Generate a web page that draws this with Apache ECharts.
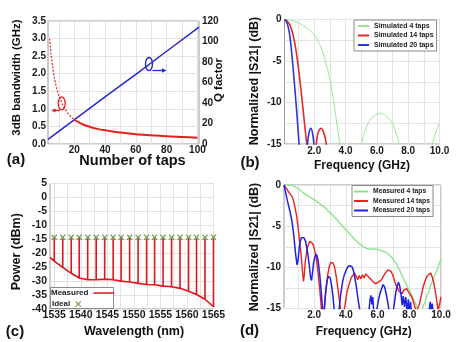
<!DOCTYPE html>
<html><head><meta charset="utf-8">
<script src="https://cdn.jsdelivr.net/npm/echarts@6/dist/echarts.min.js"></script>
<style>html,body{margin:0;padding:0;background:#fff}#c{width:474px;height:342px}</style>
</head><body><div id="c"></div>
<script>
// ---------- Panel (a): bandwidth and Q factor vs number of taps ----------
const tapsDashed = [4,5,6,7,8,9,10,11,12,13,14,15,16,17,18,19,20];
const bwDashed   = [3.0,2.55,2.2,1.92,1.7,1.52,1.38,1.26,1.16,1.07,1.0,0.93,0.87,0.82,0.77,0.73,0.69];
const tapsSolid  = [20,25,30,35,40,50,60,70,80,90,100];
const bwSolid    = [0.69,0.57,0.49,0.43,0.39,0.325,0.28,0.25,0.22,0.2,0.18];
const tapsQ      = [3,20,40,60,80,101];
const qFactor    = [4.5,23.5,46,68,90.5,114];

// ---------- Panel (b): simulated responses [GHz, dB] ----------
const sim4 = [[0.1,0],[0.5,-0.08],[1.0,-0.4],[1.5,-1.0],[2.0,-1.85],[2.4,-3.2],[2.7,-4.9],[3.0,-7.2],[3.25,-10.0],[3.45,-12.6],[3.63,-15.0],[3.85,-18.8],[4.05,-24],[4.3,-40],
  [4.7,-20],[5.0,-15.2],[5.3,-13.1],[5.6,-12.0],[5.9,-11.5],[6.2,-11.3],[6.5,-11.5],[6.8,-12.0],[7.1,-13.0],[7.4,-14.8],[7.7,-17.5],[8.1,-25],[8.6,-40],
  [9.1,-20],[9.55,-15.0],[9.8,-13.4],[10.0,-12.5]];
const sim14 = [[0.1,0],[0.25,-0.15],[0.4,-0.5],[0.55,-1.2],[0.7,-2.3],[0.85,-3.9],[0.95,-5.2],[1.05,-6.8],[1.15,-8.4],[1.25,-10.2],[1.35,-12.0],[1.45,-13.8],[1.55,-15.5],[1.65,-18.5],[1.75,-40],
  [1.95,-20],[2.13,-15],[2.25,-13.6],[2.43,-13.1],[2.6,-13.6],[2.77,-15],[2.95,-20],[3.1,-40]];
const sim20 = [[0.1,0],[0.2,-0.2],[0.3,-0.65],[0.4,-1.5],[0.5,-2.9],[0.6,-4.8],[0.7,-7.0],[0.8,-9.2],[0.9,-11.6],[1.0,-14.2],[1.05,-15.6],[1.12,-19],[1.2,-40],
  [1.4,-20],[1.57,-15],[1.67,-13.6],[1.78,-13.1],[1.88,-13.6],[1.98,-15],[2.12,-20],[2.25,-40]];

// ---------- Panel (c): optical spectrum ----------
const wavelengths = [1535.0,1536.6,1538.2,1539.7,1541.3,1542.9,1544.5,1546.1,1547.6,1549.2,1550.8,1552.4,1553.9,1555.5,1557.1,1558.7,1560.3,1561.8,1563.4,1565.0];
const measuredPeak = [-14.6,-14.7,-14.6,-14.5,-14.7,-14.6,-14.6,-14.7,-14.6,-14.5,-14.6,-14.7,-14.6,-14.6,-14.7,-14.6,-14.6,-14.7,-14.8,-14.7];
const floorPower = [-22.8,-25.1,-27.2,-28.9,-29.5,-29.5,-29.3,-29.5,-30.0,-30.3,-30.8,-31.2,-31.3,-31.8,-32.0,-32.6,-33.6,-34.8,-36.5,-39.2];
const idealPower = [-14.3,-14.3,-14.3,-14.3,-14.3,-14.3,-14.3,-14.3,-14.3,-14.3,-14.3,-14.3,-14.3,-14.3,-14.3,-14.3,-14.3,-14.3,-14.3,-14.3];
const spectrumStart = [1534.2,-21.5];

// ---------- Panel (d): measured responses [GHz, dB] ----------
const meas4 = [[0.1,0],[0.25,0.05],[0.4,-0.05],[0.55,0.02],[0.7,-0.12],[0.85,-0.25],[1.0,-0.42],[1.1,-0.55],[1.2,-0.78],[1.3,-0.9],[1.4,-1.05],[1.5,-1.12],[1.6,-1.3],[1.7,-1.36],[1.8,-1.52],[1.9,-1.6],[2.0,-1.78],[2.1,-1.85],[2.2,-2.05],[2.3,-2.15],[2.4,-2.35],[2.5,-2.5],[2.6,-2.62],[2.7,-2.85],[2.8,-2.95],[2.9,-3.2],[3.0,-3.3],[3.1,-3.55],[3.2,-3.68],[3.3,-3.92],[3.4,-4.1],[3.5,-4.35],[3.6,-4.5],[3.7,-4.8],[3.8,-4.95],[3.9,-5.25],[4.0,-5.4],[4.1,-5.62],[4.2,-5.75],[4.3,-6.05],[4.4,-6.2],[4.5,-6.5],[4.6,-6.6],[4.7,-6.88],[4.8,-6.95],[4.9,-7.2],[5.0,-7.25],[5.1,-7.5],[5.2,-7.45],[5.3,-7.7],[5.4,-7.6],[5.5,-7.8],[5.6,-7.62],[5.7,-7.75],[5.8,-7.55],[5.9,-7.78],[6.0,-7.7],[6.1,-7.92],[6.2,-7.85],[6.3,-8.0],[6.4,-7.95],[6.5,-8.15],[6.6,-8.2],[6.7,-8.45],[6.8,-8.5],[6.9,-8.8],[7.0,-8.95],[7.1,-9.3],[7.2,-9.6],[7.3,-10.05],[7.4,-10.35],[7.5,-10.85],[7.6,-11.2],[7.7,-11.65],[7.8,-11.95],[7.9,-12.45],[8.0,-12.7],[8.1,-13.2],[8.2,-13.5],[8.3,-14.05],[8.4,-14.4],[8.5,-15.0],[8.6,-15.5],[8.7,-15.7],[8.8,-15.2],[8.9,-14.6],[9.0,-14.2],[9.1,-13.5],[9.2,-13.1],[9.3,-12.4],[9.4,-12.0],[9.5,-11.4],[9.6,-11.0],[9.7,-10.5],[9.8,-10.15],[9.9,-9.5],[10.0,-9.0]];
const meas14 = [[0.1,0],[0.2,-0.3],[0.3,-0.55],[0.4,-0.9],[0.5,-1.0],[0.6,-1.35],[0.7,-1.9],[0.8,-2.75],[0.9,-3.8],[1.0,-5.3],[1.07,-6.6],[1.15,-8.0],[1.22,-9.4],[1.28,-10.8],[1.33,-11.7],[1.38,-10.9],[1.43,-9.5],[1.5,-8.5],[1.57,-7.6],[1.65,-7.2],[1.72,-6.85],[1.8,-6.8],[1.88,-7.05],[1.95,-7.3],[2.03,-7.95],[2.12,-8.7],[2.2,-9.9],[2.28,-11.3],[2.36,-12.8],[2.44,-14.6],[2.5,-16.5],[2.58,-16.0],[2.66,-14.5],[2.75,-12.8],[2.85,-11.0],[2.95,-9.95],[3.05,-9.4],[3.12,-9.3],[3.2,-9.5],[3.3,-10.05],[3.4,-11.2],[3.5,-12.6],[3.6,-14.1],[3.67,-15.2],[3.75,-16.5],[3.85,-16.3],[3.95,-14.6],[4.05,-13.2],[4.15,-12.4],[4.25,-11.8],[4.35,-11.2],[4.45,-11.1],[4.55,-10.7],[4.65,-11.1],[4.75,-11.5],[4.85,-11.0],[4.95,-11.4],[5.05,-10.9],[5.15,-11.3],[5.25,-10.8],[5.35,-10.9],[5.45,-11.2],[5.55,-11.1],[5.65,-11.6],[5.75,-11.4],[5.85,-12.0],[5.95,-12.2],[6.05,-11.8],[6.15,-11.8],[6.25,-11.5],[6.35,-11.3],[6.45,-10.8],[6.55,-10.6],[6.65,-10.3],[6.75,-10.35],[6.85,-10.5],[6.95,-10.9],[7.05,-11.5],[7.15,-12.1],[7.25,-12.5],[7.35,-12.9],[7.45,-13.0],[7.55,-13.2],[7.65,-12.8],[7.75,-12.8],[7.85,-12.6],[7.95,-13.0],[8.05,-13.1],[8.15,-13.6],[8.25,-14.1],[8.35,-14.8],[8.45,-15.4],[8.55,-15.2],[8.65,-14.4],[8.75,-13.5],[8.85,-12.6],[8.95,-11.9],[9.05,-11.4],[9.15,-11.0],[9.25,-10.8],[9.35,-10.7],[9.45,-11.2],[9.55,-11.9],[9.65,-13.0],[9.75,-14.3],[9.82,-15.3],[9.9,-14.6],[10.0,-13.6]];
const meas20 = [[0.1,0],[0.2,-0.9],[0.3,-1.8],[0.4,-2.6],[0.5,-3.4],[0.6,-4.4],[0.68,-5.5],[0.76,-7.0],[0.84,-8.5],[0.92,-9.7],[0.98,-9.2],[1.05,-7.8],[1.12,-6.9],[1.2,-6.4],[1.28,-6.2],[1.36,-6.4],[1.45,-6.8],[1.54,-7.6],[1.62,-8.6],[1.7,-9.9],[1.78,-11.3],[1.84,-11.6],[1.9,-10.6],[1.97,-9.4],[2.05,-8.7],[2.12,-8.4],[2.2,-8.7],[2.28,-9.6],[2.36,-11.0],[2.44,-12.8],[2.52,-14.8],[2.58,-16.5],[2.65,-15.0],[2.72,-13.0],[2.8,-11.8],[2.88,-11.1],[2.95,-11.0],[3.02,-11.3],[3.1,-12.2],[3.18,-13.4],[3.26,-15.0],[3.35,-17],[3.5,-16.5],[3.58,-15.0],[3.68,-13.2],[3.8,-11.7],[3.92,-10.8],[4.05,-10.2],[4.18,-9.8],[4.28,-9.7],[4.38,-9.9],[4.48,-10.4],[4.58,-11.4],[4.68,-12.6],[4.78,-14.0],[4.88,-15.2],[4.95,-17],[5.1,-17],[5.3,-16.5],[5.45,-15.5],[5.52,-14.0],[5.58,-13.4],[5.64,-14.5],[5.7,-13.6],[5.76,-15.5],[5.85,-16.5],[5.95,-15.2],[6.05,-14.0],[6.15,-13.2],[6.25,-12.6],[6.35,-12.1],[6.45,-12.4],[6.55,-13.3],[6.65,-14.3],[6.75,-15.6],[6.85,-16.5],[6.95,-15.8],[7.05,-14.5],[7.15,-13.0],[7.25,-12.2],[7.32,-11.8],[7.4,-12.3],[7.48,-13.3],[7.55,-14.6],[7.62,-13.5],[7.7,-14.8],[7.78,-13.6],[7.86,-15.4],[7.94,-13.9],[8.0,-15.6],[8.08,-14.2],[8.15,-16.0],[8.3,-16.5],[8.5,-16.5],[8.7,-16.2],[8.9,-16.5],[9.1,-16.3],[9.25,-15.3],[9.32,-14.2],[9.38,-15.2],[9.45,-14.4],[9.52,-16.0],[9.7,-16.5],[9.9,-16.2],[10.0,-16.5]];

// ---------- Tick definitions ----------
const tapsGrid = [10,20,30,40,50,60,70,80,90,100];
const tapsLabels = [20,40,60,80,100];
const freqGrid = [1,2,3,4,5,6,7,8,9,10];
const freqLabels = [2,4,6,8,10];
const wlGrid = [1535,1537.5,1540,1542.5,1545,1547.5,1550,1552.5,1555,1557.5,1560,1562.5,1565];
const wlLabels = [1535,1540,1545,1550,1555,1560,1565];

const FONT = "'Liberation Sans', Arial, Helvetica, sans-serif";
const RED = '#e4201c', BLUE = '#2626d6';
const XPATH = 'path://M0,1.4L1.4,0L5,3.6L8.6,0L10,1.4L6.4,5L10,8.6L8.6,10L5,6.4L1.4,10L0,8.6L3.6,5Z';

function mkAxis(o) {
  const a = {
    type: 'value',
    axisLine: {show: false},
    axisTick: Object.assign({show: false}, o.tick || {}),
    splitLine: {show: o.split !== false, lineStyle: {color: '#e2e2e2', width: 1}},
    axisLabel: Object.assign({color: '#1a1a1a', fontWeight: 'bold', fontSize: 10, fontFamily: FONT, margin: 2}, o.label || {})
  };
  ['gridIndex','min','max','interval','position'].forEach(k => { if (o[k] !== undefined) a[k] = o[k]; });
  return a;
}
const zip = (xs, ys) => xs.map((x, i) => [x, ys[i]]);
const fmt1 = v => v.toFixed(1);
const fmtInt = v => String(Math.round(v));
const fmt5 = v => (Math.abs(v % 5) < 1e-9 ? String(v) : '');

const spectrum = [spectrumStart];
wavelengths.forEach((w, i) => { spectrum.push([w, floorPower[i]], [w, measuredPeak[i]], [w, floorPower[i]]); });

const gridStyle = {show: true, borderColor: '#9a9a9a', borderWidth: 1, outerBoundsMode: 'none', containLabel: false};
const legendText = {color: '#1a1a1a', fontWeight: 'bold', fontFamily: FONT};

function txt(text, x, y, size, rot) {
  return {type: 'text', x: x, y: y, rotation: rot || 0, z: 20,
    style: {text: text, font: 'bold ' + size + 'px ' + FONT, fill: '#111', textAlign: 'center', textVerticalAlign: 'middle'}};
}

const option = {
  animation: false,
  backgroundColor: '#fff',
  grid: [
    Object.assign({left: 48, top: 21, width: 151, height: 123}, gridStyle),
    Object.assign({left: 284.5, top: 19.5, width: 155, height: 124.5}, gridStyle),
    Object.assign({left: 50, top: 183.5, width: 163.5, height: 125.5}, gridStyle),
    Object.assign({left: 284, top: 185, width: 157, height: 123.5}, gridStyle)
  ],
  xAxis: [
    mkAxis({gridIndex: 0, min: 3, max: 101, tick: {customValues: tapsGrid}, label: {customValues: tapsLabels, margin: 1}}),
    mkAxis({gridIndex: 1, min: 0.1, max: 10, tick: {customValues: freqGrid}, label: {customValues: freqLabels, formatter: fmt1, margin: 2}}),
    mkAxis({gridIndex: 2, min: 1534.2, max: 1565, tick: {customValues: wlGrid}, label: {customValues: wlLabels, formatter: fmtInt, fontSize: 10.5, margin: 1}}),
    mkAxis({gridIndex: 3, min: 0.1, max: 10, tick: {customValues: freqGrid}, label: {customValues: freqLabels, formatter: fmt1, margin: 1.5}})
  ],
  yAxis: [
    mkAxis({gridIndex: 0, min: 0, max: 3.5, interval: 0.5, label: {formatter: fmt1, margin: 2}}),
    mkAxis({gridIndex: 0, position: 'right', min: 0, max: 120, interval: 20, split: false, label: {margin: 3}}),
    mkAxis({gridIndex: 1, min: -15, max: 0, interval: 2.5, label: {formatter: fmt5, margin: 3}}),
    mkAxis({gridIndex: 2, min: -40, max: 5, interval: 5, label: {fontSize: 10.5, margin: 3}}),
    mkAxis({gridIndex: 3, min: -15, max: 0, interval: 2.5, label: {formatter: fmt5, margin: 3}})
  ],
  legend: [
    {data: ['Simulated 4 taps','Simulated 14 taps','Simulated 20 taps'], orient: 'vertical', left: 354, top: 20,
     icon: 'rect', itemWidth: 11, itemHeight: 2, itemGap: 1.5, padding: [2, 3, 2, 4], selectedMode: false,
     backgroundColor: '#fff', borderColor: '#8a8a8a', borderWidth: 1, borderRadius: 0,
     textStyle: Object.assign({fontSize: 7, lineHeight: 8}, legendText), z: 6},
    {data: ['Measured 4 taps','Measured 14 taps','Measured 20 taps'], orient: 'vertical', left: 352, top: 185.5,
     icon: 'rect', itemWidth: 14, itemHeight: 2, itemGap: 1.5, padding: [2, 3, 2, 2], selectedMode: false,
     backgroundColor: '#fff', borderColor: '#8a8a8a', borderWidth: 1, borderRadius: 0,
     textStyle: Object.assign({fontSize: 6.8, lineHeight: 8}, legendText), z: 6},
    {data: [{name: 'Measured', icon: 'rect'}], orient: 'vertical', align: 'right', left: 51, top: 288.5,
     itemWidth: 21, itemHeight: 1.5, padding: 0, selectedMode: false,
     textStyle: Object.assign({fontSize: 8, lineHeight: 9}, legendText), z: 6},
    {data: [{name: 'Ideal', icon: XPATH}], orient: 'vertical', align: 'right', left: 52, top: 299.5,
     itemWidth: 6, itemHeight: 6, padding: 0, selectedMode: false,
     textStyle: Object.assign({fontSize: 8, lineHeight: 9}, legendText), z: 6}
  ],
  series: [
    // (a)
    {name: 'Q factor', type: 'line', xAxisIndex: 0, yAxisIndex: 1, data: zip(tapsQ, qFactor), symbol: 'none', color: BLUE, lineStyle: {color: BLUE, width: 1.5}},
    {name: 'BW dashed', type: 'line', xAxisIndex: 0, yAxisIndex: 0, data: zip(tapsDashed, bwDashed), symbol: 'none', smooth: 0.3, color: '#d84040', lineStyle: {color: '#d84040', width: 1.3, type: [2, 1.5]}},
    {name: 'BW solid', type: 'line', xAxisIndex: 0, yAxisIndex: 0, data: zip(tapsSolid, bwSolid), symbol: 'none', smooth: 0.3, color: RED, lineStyle: {color: RED, width: 2}},
    // (b)
    {name: 'Simulated 4 taps', type: 'line', xAxisIndex: 1, yAxisIndex: 2, data: sim4, symbol: 'none', smooth: 0.3, color: '#98e698', lineStyle: {color: '#98e698', width: 1}},
    {name: 'Simulated 14 taps', type: 'line', xAxisIndex: 1, yAxisIndex: 2, data: sim14, symbol: 'none', smooth: 0.3, color: '#e8262a', lineStyle: {color: '#e8262a', width: 1.6}},
    {name: 'Simulated 20 taps', type: 'line', xAxisIndex: 1, yAxisIndex: 2, data: sim20, symbol: 'none', smooth: 0.3, color: '#2a36d8', lineStyle: {color: '#2a36d8', width: 1.6}},
    // (c)
    {name: 'Measured', type: 'line', xAxisIndex: 2, yAxisIndex: 3, data: spectrum, symbol: 'none', color: '#e3141c', lineStyle: {color: '#e3141c', width: 1.6}},
    {name: 'Ideal', type: 'scatter', xAxisIndex: 2, yAxisIndex: 3, data: zip(wavelengths, idealPower), symbol: XPATH, symbolSize: 6, color: '#4a8526', itemStyle: {color: '#4a8526'}, z: 4},
    // (d)
    {name: 'Measured 4 taps', type: 'line', xAxisIndex: 3, yAxisIndex: 4, data: meas4, symbol: 'none', color: '#86e486', lineStyle: {color: '#86e486', width: 1.3}},
    {name: 'Measured 14 taps', type: 'line', xAxisIndex: 3, yAxisIndex: 4, data: meas14, symbol: 'none', color: '#ee2020', lineStyle: {color: '#ee2020', width: 1.4}},
    {name: 'Measured 20 taps', type: 'line', xAxisIndex: 3, yAxisIndex: 4, data: meas20, symbol: 'none', color: '#2020e0', lineStyle: {color: '#2020e0', width: 1.5}}
  ],
  graphic: [
    // annotations in (a)
    {type: 'ellipse', z: 10, shape: {cx: 149, cy: 64, rx: 3.5, ry: 6.5}, style: {fill: 'none', stroke: BLUE, lineWidth: 1.3}},
    {type: 'line', z: 10, shape: {x1: 152.5, y1: 70.5, x2: 163, y2: 70.5}, style: {stroke: BLUE, lineWidth: 1.3}},
    {type: 'polygon', z: 10, shape: {points: [[166.5, 70.5], [162, 68.2], [162, 72.8]]}, style: {fill: BLUE}},
    {type: 'ellipse', z: 10, shape: {cx: 61.7, cy: 103.3, rx: 3.5, ry: 6.5}, style: {fill: 'none', stroke: RED, lineWidth: 1.3}},
    {type: 'line', z: 10, shape: {x1: 60, y1: 110.5, x2: 55, y2: 110.5}, style: {stroke: RED, lineWidth: 1.3}},
    {type: 'polygon', z: 10, shape: {points: [[51.5, 110.5], [55.5, 108.4], [55.5, 112.6]]}, style: {fill: RED}},
    // legend box in (c)
    {type: 'rect', z: 3, shape: {x: 50.5, y: 287.5, width: 63, height: 21}, style: {fill: '#fff', stroke: '#8a8a8a', lineWidth: 1}},
    // axis titles and panel labels
    txt('(a)', 16, 160, 15), txt('(b)', 250, 163, 15), txt('(c)', 15, 332, 15), txt('(d)', 249.5, 331, 15),
    txt('Number of taps', 132.5, 161, 14.5),
    txt('3dB bandwidth (GHz)', 17, 77.5, 11.5, Math.PI / 2),
    txt('Q factor', 219, 80, 11.5, Math.PI / 2),
    txt('Frequency (GHz)', 362, 166, 12),
    txt('Normalized |S21| (dB)', 254.7, 81, 12.5, Math.PI / 2),
    txt('Wavelength (nm)', 134, 332, 12.5),
    txt('Power (dBm)', 16.7, 251.7, 12.5, Math.PI / 2),
    txt('Frequency (GHz)', 363.7, 331.5, 12),
    txt('Normalized |S21| (dB)', 254.7, 247, 12.5, Math.PI / 2)
  ]
};
const chart = echarts.init(document.getElementById('c'));
chart.setOption(option);
</script>
</body></html>
